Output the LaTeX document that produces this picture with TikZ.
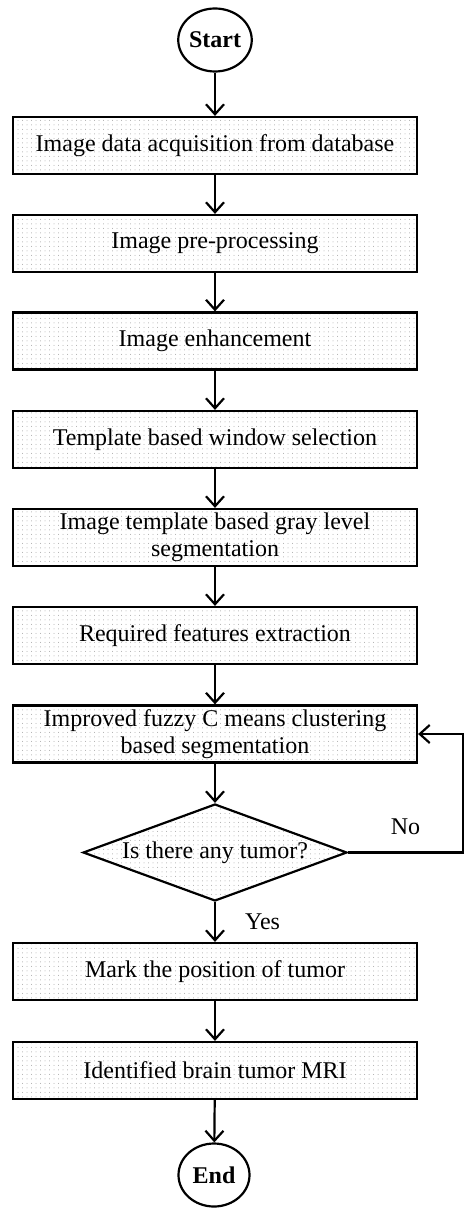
\documentclass[tikz,border=0pt]{standalone}
\usepackage{fontspec}
\setmainfont{Liberation Serif}
\usetikzlibrary{shapes.geometric,arrows.meta,patterns.meta}
\tikzstyle{blk}=[shape=rectangle,draw,line width=2.2pt,minimum width=404pt,minimum height=57pt,inner sep=0pt,align=center,pattern={Dots[distance=4.5pt,radius=0.5pt]},pattern color=gray!70]
\tikzstyle{dec}=[shape=diamond,aspect=2.72,draw,line width=2.2pt,minimum width=264pt,minimum height=97pt,inner sep=0pt,pattern={Dots[distance=4.5pt,radius=0.5pt]},pattern color=gray!70]
\tikzstyle{term}=[shape=ellipse,draw,line width=2.2pt,minimum width=71pt,minimum height=63pt,inner sep=0pt,font=\fontsize{24}{28}\selectfont\bfseries]
\tikzstyle{from}=[{Straight Barb[length=10pt,width=18pt]}-,line width=2.2pt]
\tikzstyle{to}=[-{Straight Barb[length=10pt,width=18pt]},line width=2.2pt]

\begin{document}
\begin{tikzpicture}[x=1pt,y=-1pt,font=\fontsize{24}{27}\selectfont]
        \useasboundingbox (0,0) rectangle (474,1214);
        \node[term] (start) at (215, 40) {Start};
        \node[blk] (acq) at (215, 145.5) {Image data acquisition from database}
            edge[from] (start)
        ;
        \node[blk] (prep) at (215, 243.5) {Image pre-processing}
            edge[from] (acq)
        ;
        \node[blk] (enh) at (215, 341) {Image enhancement}
            edge[from] (prep)
        ;
        \node[blk] (win) at (215, 439.5) {Template based window selection}
            edge[from] (enh)
        ;
        \node[blk] (gray) at (215, 537.5) {Image template based gray level\\segmentation}
            edge[from] (win)
        ;
        \node[blk] (feat) at (215, 635.5) {Required features extraction}
            edge[from] (gray)
        ;
        \node[blk] (fcm) at (215, 734) {Improved fuzzy C means clustering\\based segmentation}
            edge[from] (feat)
        ;
        \node[dec] (tumor) at (215, 852.5) {Is there any tumor?}
            edge[from] (fcm)
        ;
        \node[blk] (mark) at (215, 971.5) {Mark the position of tumor}
            edge[from] node[auto, swap, inner sep=2pt, xshift=27pt] {Yes} (tumor)
        ;
        \node[blk] (mri) at (215, 1070.5) {Identified brain tumor MRI}
            edge[from] (mark)
        ;
        \node[term] (end) at (214, 1175) {End}
            edge[from] (mri)
        ;
        \coordinate (loop) at (463, 852.5);
        \draw[to] (tumor.east) -- node[auto, inner sep=2pt, yshift=15pt] {No} (loop) |- (fcm.east);
    \end{tikzpicture}
\end{document}
